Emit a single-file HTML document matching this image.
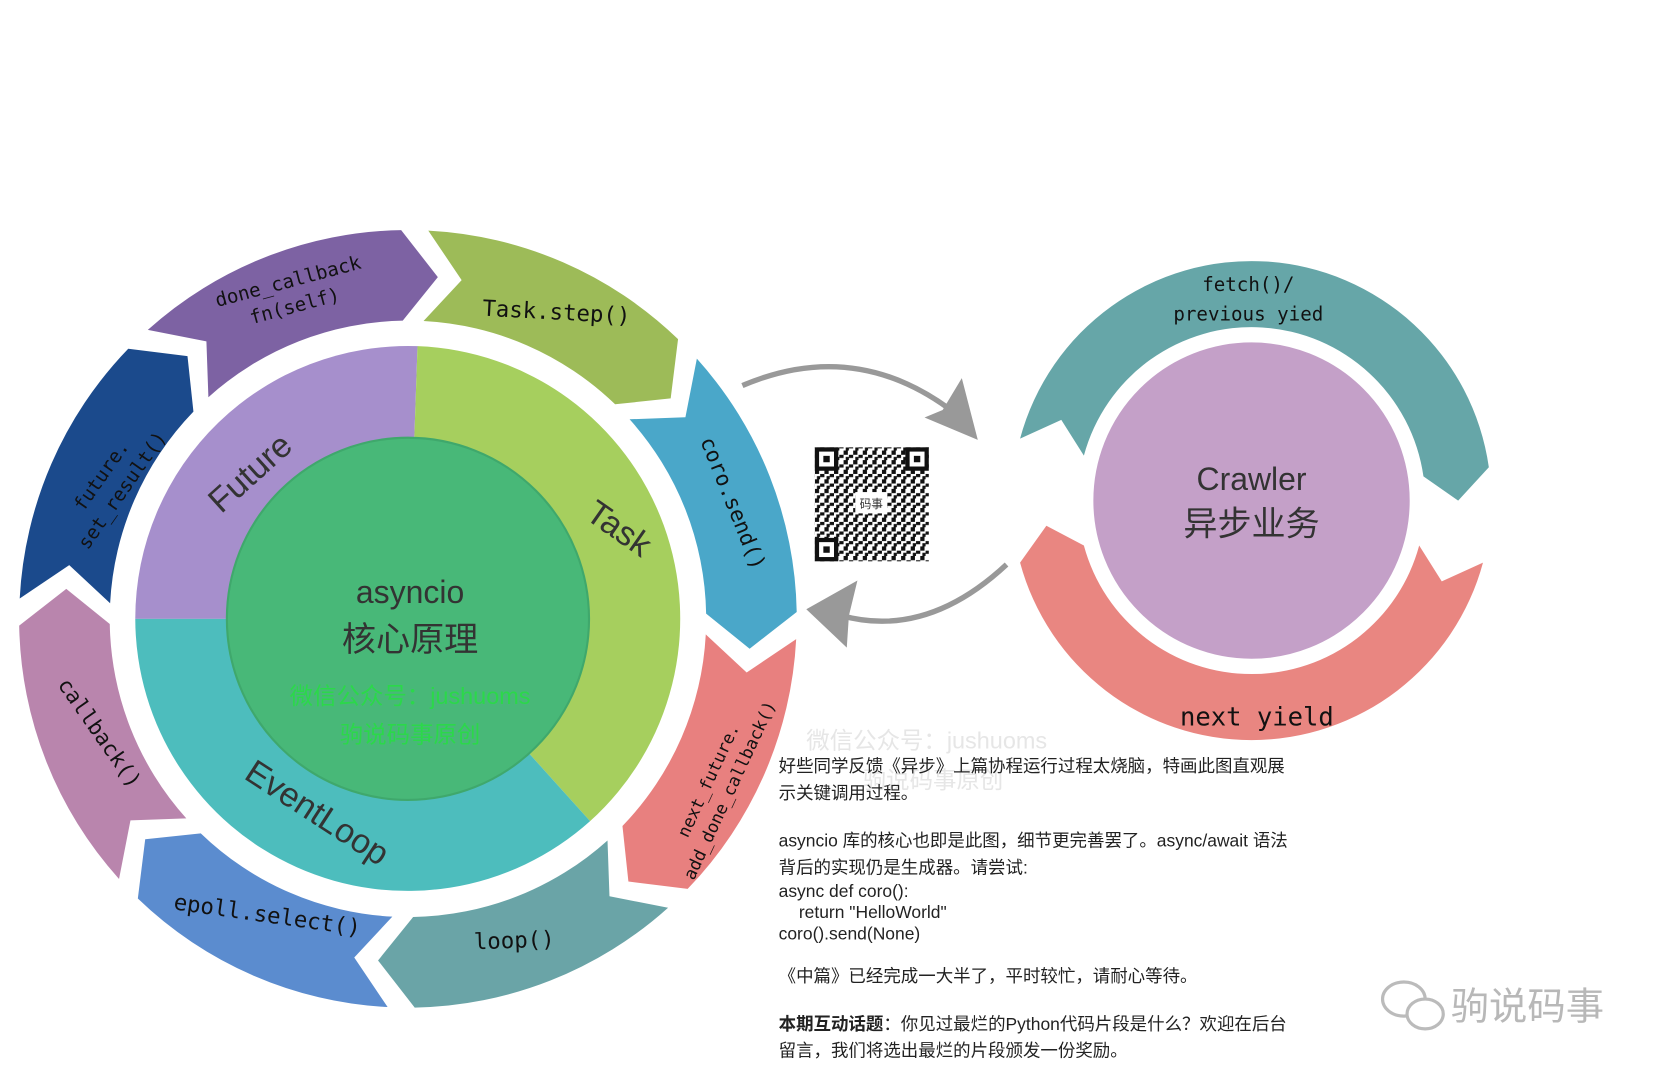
<!DOCTYPE html>
<html><head><meta charset="utf-8"><style>
html,body{margin:0;padding:0;background:#fff;}
svg{display:block}
.m{font-family:"DejaVu Sans Mono","Liberation Mono",monospace;fill:#111;}
.s{font-family:"Liberation Sans","Noto Sans CJK SC",sans-serif;}
</style></head><body>
<svg width="1668" height="1080" viewBox="0 0 1566 1014" preserveAspectRatio="none" xmlns="http://www.w3.org/2000/svg">
<defs>
<path id="seg" d="M365,0 A365,365 0 0 1 275.5,239.5 L219.6,235.5 L211.3,183.7 A280,280 0 0 0 280,0 L320.2,33.7 Z"/>
<pattern id="qr" width="9" height="9" patternUnits="userSpaceOnUse">
<rect width="9" height="9" fill="#fff"/><rect x="0" y="0" width="4" height="4" fill="#111"/><rect x="5" y="4" width="4" height="3" fill="#111"/><rect x="2" y="6" width="3" height="3" fill="#111"/>
</pattern>
</defs>
<g transform="translate(383,581)">
<use href="#seg" transform="rotate(-132)" fill="#7d62a3"/>
<use href="#seg" transform="rotate(-87)" fill="#9dbb58"/>
<use href="#seg" transform="rotate(-42)" fill="#4aa7c9"/>
<use href="#seg" transform="rotate(3)" fill="#e8807f"/>
<use href="#seg" transform="rotate(48)" fill="#6aa4a7"/>
<use href="#seg" transform="rotate(93)" fill="#5b8ccf"/>
<use href="#seg" transform="rotate(138)" fill="#b985ad"/>
<use href="#seg" transform="rotate(183)" fill="#1b4a8c"/>
</g>
<path d="M383,581 L127,581 A256,256 0 0 1 392,325 Z" fill="#a68fcc"/>
<path d="M383,581 L392,325 A256,256 0 0 1 554,771 Z" fill="#a6cf5e"/>
<path d="M383,581 L554,771 A256,256 0 0 1 127,581 Z" fill="#4dbdbd"/>
<circle cx="383" cy="581" r="170" fill="#48b878" stroke="#3fa86c" stroke-width="2"/>
<text class="s" font-size="32" fill="#333" transform="translate(242,452) rotate(-42)" text-anchor="middle">Future</text>
<text class="s" font-size="32" fill="#333" transform="translate(575,505) rotate(35)" text-anchor="middle">Task</text>
<text class="s" font-size="32" fill="#333" transform="translate(292,772) rotate(33)" text-anchor="middle">EventLoop</text>
<text class="s" x="385" y="566" font-size="30" fill="#333" text-anchor="middle">asyncio</text>
<text class="s" x="385" y="611" font-size="32" fill="#333" text-anchor="middle">核心原理</text>
<text class="s" x="385" y="661" font-size="22" fill="#2bd84a" text-anchor="middle">微信公众号：jushuoms</text>
<text class="s" x="385" y="697" font-size="22" fill="#2bd84a" text-anchor="middle">驹说码事原创</text>
<g class="m" font-size="18">
<text transform="translate(272,270) rotate(-15)" text-anchor="middle"><tspan x="0" y="0">done_callback</tspan><tspan x="0" y="24">fn(self)</tspan></text>
<text transform="translate(522,300) rotate(3)" text-anchor="middle" font-size="21">Task.step()</text>
<text transform="translate(682,475) rotate(68)" text-anchor="middle" font-size="20">coro.send()</text>
<text transform="translate(670,735) rotate(-65)" text-anchor="middle" font-size="16"><tspan x="0" y="0">next_future.</tspan><tspan x="0" y="22">add_done_callback()</tspan></text>
<text transform="translate(483,890) rotate(-2)" text-anchor="middle" font-size="21">loop()</text>
<text transform="translate(250,866) rotate(8)" text-anchor="middle" font-size="21">epoll.select()</text>
<text transform="translate(88,692) rotate(55)" text-anchor="middle" font-size="20">callback()</text>
<text transform="translate(100,450) rotate(-55)" text-anchor="middle"><tspan x="0" y="0">future.</tspan><tspan x="0" y="24">set_result()</tspan></text>
</g>
<path d="M697,362 Q800,318 890,383" fill="none" stroke="#999" stroke-width="5"/>
<polygon points="918,413 868,392 885,385 903,355" fill="#999"/>
<path d="M945,530 Q870,600 790,578" fill="none" stroke="#999" stroke-width="5"/>
<polygon points="757,572 805,545 797,578 795,608" fill="#999"/>
<rect x="765" y="420" width="107" height="107" fill="url(#qr)"/>
<g fill="#fff" stroke="#111" stroke-width="4">
<rect x="767" y="422" width="18" height="18"/><rect x="852" y="422" width="18" height="18"/><rect x="767" y="507" width="18" height="18"/>
</g>
<rect x="773" y="428" width="6" height="6" fill="#111"/><rect x="858" y="428" width="6" height="6" fill="#111"/><rect x="773" y="513" width="6" height="6" fill="#111"/>
<rect x="803" y="462" width="30" height="20" fill="#fff"/>
<text x="818" y="477" font-size="11" text-anchor="middle" class="s" fill="#333">码事</text>
<path d="M957.7,411.8 A225,225 0 0 1 1397.8,438.7 L1369,470 L1336.4,447.3 A163,163 0 0 0 1017.6,427.8 L996.4,394.2 Z" fill="#66a6a8"/>
<path d="M1392.3,528.2 A225,225 0 0 1 957.7,528.2 L982.4,493.6 L1017.6,512.2 A163,163 0 0 0 1332.4,512.2 L1353.6,545.8 Z" fill="#e98681"/>
<circle cx="1175" cy="470" r="150" fill="#c4a0c8" stroke="#fff" stroke-width="3"/>
<text class="s" x="1175" y="460" font-size="30" fill="#333" text-anchor="middle">Crawler</text>
<text class="s" x="1175" y="503" font-size="32" fill="#333" text-anchor="middle">异步业务</text>
<g class="m" font-size="18" text-anchor="middle">
<text x="1172" y="273">fetch()/</text>
<text x="1172" y="301">previous yied</text>
<text x="1180" y="681" font-size="24">next yield</text>
</g>
<text class="s" x="757" y="703" font-size="22" fill="#e6e6e6">微信公众号：jushuoms</text>
<text class="s" x="810" y="740" font-size="22" fill="#e6e6e6">驹说码事原创</text>
<g class="s" font-size="16.4" fill="#222">
<text x="731" y="725">好些同学反馈《异步》上篇协程运行过程太烧脑，特画此图直观展</text>
<text x="731" y="750">示关键调用过程。</text>
<text x="731" y="795">asyncio 库的核心也即是此图，细节更完善罢了。async/await 语法</text>
<text x="731" y="820">背后的实现仍是生成器。请尝试:</text>
<text x="731" y="842">async def coro():</text>
<text x="750" y="862">return "HelloWorld"</text>
<text x="731" y="882">coro().send(None)</text>
<text x="731" y="922">《中篇》已经完成一大半了，平时较忙，请耐心等待。</text>
<text x="731" y="967"><tspan font-weight="bold">本期互动话题</tspan>：你见过最烂的Python代码片段是什么？欢迎在后台</text>
<text x="731" y="992">留言，我们将选出最烂的片段颁发一份奖励。</text>
</g>
<g fill="none" stroke="#bbb" stroke-width="3">
<ellipse cx="1318" cy="938" rx="20" ry="16"/>
<ellipse cx="1338" cy="952" rx="17" ry="14" fill="#fff"/>
</g>
<text class="s" x="1362" y="957" font-size="36" fill="#b8b8b8">驹说码事</text>
</svg>
</body></html>
